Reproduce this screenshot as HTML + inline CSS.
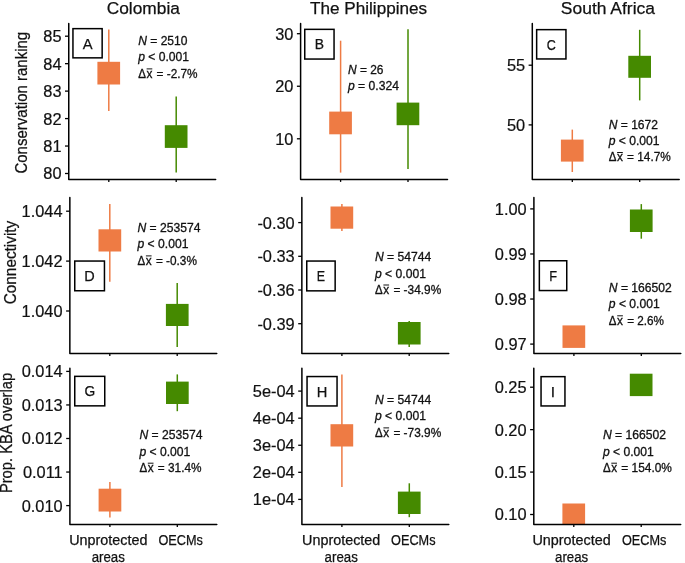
<!DOCTYPE html><html><head><meta charset="utf-8"><style>html,body{margin:0;padding:0;background:#fff;}svg{display:block}.t{font-family:'Liberation Sans', Arial, sans-serif;font-size:15.6px;fill:#111;stroke:#111;stroke-width:0.2px}.a{font-family:'Liberation Sans', Arial, sans-serif;font-size:12.2px;fill:#111;stroke:#111;stroke-width:0.3px}.h{font-family:'Liberation Sans', Arial, sans-serif;font-size:15.8px;fill:#111;stroke:#111;stroke-width:0.25px}</style></head><body>
<svg width="685" height="563" viewBox="0 0 685 563">
<rect width="685" height="563" fill="#fff"/>
<line x1="108.8" y1="29.5" x2="108.8" y2="111.0" stroke="#EE7B44" stroke-width="1.5"/>
<rect x="97.4" y="61.8" width="22.7" height="22.7" fill="#EE7B44"/>
<line x1="176.2" y1="96.5" x2="176.2" y2="172.6" stroke="#458A00" stroke-width="1.5"/>
<rect x="164.8" y="125.2" width="22.7" height="22.7" fill="#458A00"/>
<path d="M68.75 23.5V179.6H215.65" fill="none" stroke="#000" stroke-width="1.5" stroke-linejoin="round" stroke-linecap="round"/>
<line x1="65.0" y1="36.2" x2="68.75" y2="36.2" stroke="#000" stroke-width="1.3"/>
<text class="t" x="61.5" y="42.1" text-anchor="end" textLength="18.2" lengthAdjust="spacingAndGlyphs">85</text>
<line x1="65.0" y1="63.66" x2="68.75" y2="63.66" stroke="#000" stroke-width="1.3"/>
<text class="t" x="61.5" y="69.6" text-anchor="end" textLength="18.2" lengthAdjust="spacingAndGlyphs">84</text>
<line x1="65.0" y1="91.12" x2="68.75" y2="91.12" stroke="#000" stroke-width="1.3"/>
<text class="t" x="61.5" y="97.0" text-anchor="end" textLength="18.2" lengthAdjust="spacingAndGlyphs">83</text>
<line x1="65.0" y1="118.58" x2="68.75" y2="118.58" stroke="#000" stroke-width="1.3"/>
<text class="t" x="61.5" y="124.5" text-anchor="end" textLength="18.2" lengthAdjust="spacingAndGlyphs">82</text>
<line x1="65.0" y1="146.04" x2="68.75" y2="146.04" stroke="#000" stroke-width="1.3"/>
<text class="t" x="61.5" y="151.9" text-anchor="end" textLength="18.2" lengthAdjust="spacingAndGlyphs">81</text>
<line x1="65.0" y1="173.5" x2="68.75" y2="173.5" stroke="#000" stroke-width="1.3"/>
<text class="t" x="61.5" y="179.4" text-anchor="end" textLength="18.2" lengthAdjust="spacingAndGlyphs">80</text>
<line x1="108.8" y1="179.6" x2="108.8" y2="182.1" stroke="#000" stroke-width="1.3"/>
<line x1="176.2" y1="179.6" x2="176.2" y2="182.1" stroke="#000" stroke-width="1.3"/>
<rect x="72.95" y="28.65" width="29.20" height="29.20" fill="#fff" stroke="#000" stroke-width="1.5"/>
<text class="h" x="87.55" y="48.70" text-anchor="middle" style="font-size:15.4px" textLength="9.84" lengthAdjust="spacingAndGlyphs">A</text>
<text class="a" x="138.2" y="45.0" textLength="49.3" lengthAdjust="spacingAndGlyphs"><tspan font-style="italic">N</tspan> = 2510</text>
<text class="a" x="138.2" y="61.4" textLength="50.9" lengthAdjust="spacingAndGlyphs"><tspan font-style="italic">p</tspan> < 0.001</text>
<text class="a" x="138.2" y="77.8" textLength="7.7" lengthAdjust="spacingAndGlyphs">Δ</text>
<text class="a" x="146.5" y="77.8" textLength="5.9" lengthAdjust="spacingAndGlyphs">x</text>
<line x1="146.6" y1="68.9" x2="152.3" y2="68.9" stroke="#111" stroke-width="1"/>
<text class="a" x="156.6" y="77.8" textLength="41.0" lengthAdjust="spacingAndGlyphs">= -2.7%</text>
<line x1="340.6" y1="40.7" x2="340.6" y2="172.6" stroke="#EE7B44" stroke-width="1.5"/>
<rect x="329.2" y="111.6" width="22.7" height="22.7" fill="#EE7B44"/>
<line x1="408.0" y1="29.2" x2="408.0" y2="169.0" stroke="#458A00" stroke-width="1.5"/>
<rect x="396.6" y="102.6" width="22.7" height="22.6" fill="#458A00"/>
<path d="M300.6 23.4V179.4H447.50" fill="none" stroke="#000" stroke-width="1.5" stroke-linejoin="round" stroke-linecap="round"/>
<line x1="296.9" y1="33.7" x2="300.6" y2="33.7" stroke="#000" stroke-width="1.3"/>
<text class="t" x="293.4" y="39.6" text-anchor="end" textLength="18.2" lengthAdjust="spacingAndGlyphs">30</text>
<line x1="296.9" y1="86.25" x2="300.6" y2="86.25" stroke="#000" stroke-width="1.3"/>
<text class="t" x="293.4" y="92.2" text-anchor="end" textLength="18.2" lengthAdjust="spacingAndGlyphs">20</text>
<line x1="296.9" y1="138.8" x2="300.6" y2="138.8" stroke="#000" stroke-width="1.3"/>
<text class="t" x="293.4" y="144.7" text-anchor="end" textLength="18.2" lengthAdjust="spacingAndGlyphs">10</text>
<line x1="340.6" y1="179.4" x2="340.6" y2="181.9" stroke="#000" stroke-width="1.3"/>
<line x1="408.0" y1="179.4" x2="408.0" y2="181.9" stroke="#000" stroke-width="1.3"/>
<rect x="304.75" y="29.35" width="29.30" height="29.70" fill="#fff" stroke="#000" stroke-width="1.5"/>
<text class="h" x="319.40" y="49.40" text-anchor="middle" style="font-size:15.4px" textLength="9.25" lengthAdjust="spacingAndGlyphs">B</text>
<text class="a" x="348.0" y="73.9" textLength="35.5" lengthAdjust="spacingAndGlyphs"><tspan font-style="italic">N</tspan> = 26</text>
<text class="a" x="348.0" y="90.3" textLength="50.9" lengthAdjust="spacingAndGlyphs"><tspan font-style="italic">p</tspan> = 0.324</text>
<line x1="572.3" y1="129.6" x2="572.3" y2="172.0" stroke="#EE7B44" stroke-width="1.5"/>
<rect x="560.9" y="139.6" width="22.7" height="22.0" fill="#EE7B44"/>
<line x1="639.7" y1="29.8" x2="639.7" y2="100.4" stroke="#458A00" stroke-width="1.5"/>
<rect x="628.3" y="55.8" width="22.7" height="22.0" fill="#458A00"/>
<path d="M532.3 23.4V179.5H679.20" fill="none" stroke="#000" stroke-width="1.5" stroke-linejoin="round" stroke-linecap="round"/>
<line x1="528.6" y1="65.2" x2="532.3" y2="65.2" stroke="#000" stroke-width="1.3"/>
<text class="t" x="525.1" y="71.1" text-anchor="end" textLength="18.2" lengthAdjust="spacingAndGlyphs">55</text>
<line x1="528.6" y1="124.9" x2="532.3" y2="124.9" stroke="#000" stroke-width="1.3"/>
<text class="t" x="525.1" y="130.8" text-anchor="end" textLength="18.2" lengthAdjust="spacingAndGlyphs">50</text>
<line x1="572.3" y1="179.5" x2="572.3" y2="182.0" stroke="#000" stroke-width="1.3"/>
<line x1="639.7" y1="179.5" x2="639.7" y2="182.0" stroke="#000" stroke-width="1.3"/>
<rect x="536.65" y="29.65" width="29.30" height="29.30" fill="#fff" stroke="#000" stroke-width="1.5"/>
<text class="h" x="551.30" y="49.70" text-anchor="middle" style="font-size:15.4px" textLength="9.06" lengthAdjust="spacingAndGlyphs">C</text>
<text class="a" x="608.7" y="128.6" textLength="49.3" lengthAdjust="spacingAndGlyphs"><tspan font-style="italic">N</tspan> = 1672</text>
<text class="a" x="608.7" y="145.0" textLength="50.9" lengthAdjust="spacingAndGlyphs"><tspan font-style="italic">p</tspan> < 0.001</text>
<text class="a" x="608.7" y="161.4" textLength="7.7" lengthAdjust="spacingAndGlyphs">Δ</text>
<text class="a" x="617.0" y="161.4" textLength="5.9" lengthAdjust="spacingAndGlyphs">x</text>
<line x1="617.1" y1="152.5" x2="622.8" y2="152.5" stroke="#111" stroke-width="1"/>
<text class="a" x="627.1" y="161.4" textLength="43.7" lengthAdjust="spacingAndGlyphs">= 14.7%</text>
<line x1="109.8" y1="204.1" x2="109.8" y2="281.7" stroke="#EE7B44" stroke-width="1.5"/>
<rect x="98.5" y="229.3" width="22.7" height="22.2" fill="#EE7B44"/>
<line x1="177.2" y1="283.0" x2="177.2" y2="346.9" stroke="#458A00" stroke-width="1.5"/>
<rect x="165.9" y="303.9" width="22.7" height="22.1" fill="#458A00"/>
<path d="M69.85 197.6V353.5H216.75" fill="none" stroke="#000" stroke-width="1.5" stroke-linejoin="round" stroke-linecap="round"/>
<line x1="66.1" y1="211.2" x2="69.85" y2="211.2" stroke="#000" stroke-width="1.3"/>
<text class="t" x="62.6" y="217.1" text-anchor="end" textLength="41.0" lengthAdjust="spacingAndGlyphs">1.044</text>
<line x1="66.1" y1="261.1" x2="69.85" y2="261.1" stroke="#000" stroke-width="1.3"/>
<text class="t" x="62.6" y="267.0" text-anchor="end" textLength="41.0" lengthAdjust="spacingAndGlyphs">1.042</text>
<line x1="66.1" y1="311.0" x2="69.85" y2="311.0" stroke="#000" stroke-width="1.3"/>
<text class="t" x="62.6" y="316.9" text-anchor="end" textLength="41.0" lengthAdjust="spacingAndGlyphs">1.040</text>
<line x1="109.8" y1="353.5" x2="109.8" y2="356.0" stroke="#000" stroke-width="1.3"/>
<line x1="177.2" y1="353.5" x2="177.2" y2="356.0" stroke="#000" stroke-width="1.3"/>
<rect x="74.75" y="261.05" width="29.70" height="29.70" fill="#fff" stroke="#000" stroke-width="1.5"/>
<text class="h" x="89.60" y="281.10" text-anchor="middle" style="font-size:15.4px" textLength="10.46" lengthAdjust="spacingAndGlyphs">D</text>
<text class="a" x="137.5" y="232.0" textLength="63.0" lengthAdjust="spacingAndGlyphs"><tspan font-style="italic">N</tspan> = 253574</text>
<text class="a" x="137.5" y="248.4" textLength="50.9" lengthAdjust="spacingAndGlyphs"><tspan font-style="italic">p</tspan> < 0.001</text>
<text class="a" x="137.5" y="264.8" textLength="7.7" lengthAdjust="spacingAndGlyphs">Δ</text>
<text class="a" x="145.8" y="264.8" textLength="5.9" lengthAdjust="spacingAndGlyphs">x</text>
<line x1="145.9" y1="255.9" x2="151.6" y2="255.9" stroke="#111" stroke-width="1"/>
<text class="a" x="155.9" y="264.8" textLength="41.0" lengthAdjust="spacingAndGlyphs">= -0.3%</text>
<line x1="341.9" y1="204.1" x2="341.9" y2="231.0" stroke="#EE7B44" stroke-width="1.5"/>
<rect x="330.5" y="206.5" width="22.7" height="22.2" fill="#EE7B44"/>
<line x1="409.2" y1="321.0" x2="409.2" y2="346.9" stroke="#458A00" stroke-width="1.5"/>
<rect x="397.9" y="322.0" width="22.7" height="22.5" fill="#458A00"/>
<path d="M301.85 197.5V353.4H448.75" fill="none" stroke="#000" stroke-width="1.5" stroke-linejoin="round" stroke-linecap="round"/>
<line x1="298.2" y1="222.6" x2="301.85" y2="222.6" stroke="#000" stroke-width="1.3"/>
<text class="t" x="294.7" y="228.5" text-anchor="end" textLength="37.3" lengthAdjust="spacingAndGlyphs">-0.30</text>
<line x1="298.2" y1="256.3" x2="301.85" y2="256.3" stroke="#000" stroke-width="1.3"/>
<text class="t" x="294.7" y="262.2" text-anchor="end" textLength="37.3" lengthAdjust="spacingAndGlyphs">-0.33</text>
<line x1="298.2" y1="290.0" x2="301.85" y2="290.0" stroke="#000" stroke-width="1.3"/>
<text class="t" x="294.7" y="295.9" text-anchor="end" textLength="37.3" lengthAdjust="spacingAndGlyphs">-0.36</text>
<line x1="298.2" y1="323.7" x2="301.85" y2="323.7" stroke="#000" stroke-width="1.3"/>
<text class="t" x="294.7" y="329.6" text-anchor="end" textLength="37.3" lengthAdjust="spacingAndGlyphs">-0.39</text>
<line x1="341.9" y1="353.4" x2="341.9" y2="355.9" stroke="#000" stroke-width="1.3"/>
<line x1="409.2" y1="353.4" x2="409.2" y2="355.9" stroke="#000" stroke-width="1.3"/>
<rect x="306.75" y="261.05" width="28.40" height="29.80" fill="#fff" stroke="#000" stroke-width="1.5"/>
<text class="h" x="320.95" y="281.10" text-anchor="middle" style="font-size:15.4px" textLength="8.30" lengthAdjust="spacingAndGlyphs">E</text>
<text class="a" x="375.0" y="261.1" textLength="56.2" lengthAdjust="spacingAndGlyphs"><tspan font-style="italic">N</tspan> = 54744</text>
<text class="a" x="375.0" y="277.5" textLength="50.9" lengthAdjust="spacingAndGlyphs"><tspan font-style="italic">p</tspan> < 0.001</text>
<text class="a" x="375.0" y="293.9" textLength="7.7" lengthAdjust="spacingAndGlyphs">Δ</text>
<text class="a" x="383.3" y="293.9" textLength="5.9" lengthAdjust="spacingAndGlyphs">x</text>
<line x1="383.4" y1="285.0" x2="389.1" y2="285.0" stroke="#111" stroke-width="1"/>
<text class="a" x="393.4" y="293.9" textLength="47.8" lengthAdjust="spacingAndGlyphs">= -34.9%</text>
<rect x="562.5" y="325.4" width="22.7" height="22.5" fill="#EE7B44"/>
<line x1="641.3" y1="204.1" x2="641.3" y2="238.7" stroke="#458A00" stroke-width="1.5"/>
<rect x="629.9" y="209.5" width="22.7" height="22.5" fill="#458A00"/>
<path d="M533.9 197.5V353.6H680.80" fill="none" stroke="#000" stroke-width="1.5" stroke-linejoin="round" stroke-linecap="round"/>
<line x1="530.2" y1="208.9" x2="533.9" y2="208.9" stroke="#000" stroke-width="1.3"/>
<text class="t" x="526.7" y="214.8" text-anchor="end" textLength="31.9" lengthAdjust="spacingAndGlyphs">1.00</text>
<line x1="530.2" y1="253.97" x2="533.9" y2="253.97" stroke="#000" stroke-width="1.3"/>
<text class="t" x="526.7" y="259.9" text-anchor="end" textLength="31.9" lengthAdjust="spacingAndGlyphs">0.99</text>
<line x1="530.2" y1="299.03" x2="533.9" y2="299.03" stroke="#000" stroke-width="1.3"/>
<text class="t" x="526.7" y="304.9" text-anchor="end" textLength="31.9" lengthAdjust="spacingAndGlyphs">0.98</text>
<line x1="530.2" y1="344.1" x2="533.9" y2="344.1" stroke="#000" stroke-width="1.3"/>
<text class="t" x="526.7" y="350.0" text-anchor="end" textLength="31.9" lengthAdjust="spacingAndGlyphs">0.97</text>
<line x1="573.9" y1="353.6" x2="573.9" y2="356.1" stroke="#000" stroke-width="1.3"/>
<line x1="641.3" y1="353.6" x2="641.3" y2="356.1" stroke="#000" stroke-width="1.3"/>
<rect x="539.35" y="260.75" width="27.40" height="29.80" fill="#fff" stroke="#000" stroke-width="1.5"/>
<text class="h" x="553.05" y="280.80" text-anchor="middle" style="font-size:15.4px" textLength="7.81" lengthAdjust="spacingAndGlyphs">F</text>
<text class="a" x="608.8" y="291.9" textLength="63.0" lengthAdjust="spacingAndGlyphs"><tspan font-style="italic">N</tspan> = 166502</text>
<text class="a" x="608.8" y="308.3" textLength="50.9" lengthAdjust="spacingAndGlyphs"><tspan font-style="italic">p</tspan> < 0.001</text>
<text class="a" x="608.8" y="324.7" textLength="7.7" lengthAdjust="spacingAndGlyphs">Δ</text>
<text class="a" x="617.1" y="324.7" textLength="5.9" lengthAdjust="spacingAndGlyphs">x</text>
<line x1="617.2" y1="315.8" x2="622.9" y2="315.8" stroke="#111" stroke-width="1"/>
<text class="a" x="627.2" y="324.7" textLength="36.8" lengthAdjust="spacingAndGlyphs">= 2.6%</text>
<line x1="109.9" y1="481.9" x2="109.9" y2="517.6" stroke="#EE7B44" stroke-width="1.5"/>
<rect x="98.6" y="488.7" width="22.7" height="22.8" fill="#EE7B44"/>
<line x1="177.3" y1="374.4" x2="177.3" y2="411.2" stroke="#458A00" stroke-width="1.5"/>
<rect x="166.0" y="381.6" width="22.7" height="22.4" fill="#458A00"/>
<path d="M69.9 368.2V524.5H216.80" fill="none" stroke="#000" stroke-width="1.5" stroke-linejoin="round" stroke-linecap="round"/>
<line x1="66.2" y1="371.4" x2="69.9" y2="371.4" stroke="#000" stroke-width="1.3"/>
<text class="t" x="62.7" y="377.3" text-anchor="end" textLength="41.0" lengthAdjust="spacingAndGlyphs">0.014</text>
<line x1="66.2" y1="404.95" x2="69.9" y2="404.95" stroke="#000" stroke-width="1.3"/>
<text class="t" x="62.7" y="410.8" text-anchor="end" textLength="41.0" lengthAdjust="spacingAndGlyphs">0.013</text>
<line x1="66.2" y1="438.5" x2="69.9" y2="438.5" stroke="#000" stroke-width="1.3"/>
<text class="t" x="62.7" y="444.4" text-anchor="end" textLength="41.0" lengthAdjust="spacingAndGlyphs">0.012</text>
<line x1="66.2" y1="472.05" x2="69.9" y2="472.05" stroke="#000" stroke-width="1.3"/>
<text class="t" x="62.7" y="477.9" text-anchor="end" textLength="39.8" lengthAdjust="spacingAndGlyphs">0.011</text>
<line x1="66.2" y1="505.6" x2="69.9" y2="505.6" stroke="#000" stroke-width="1.3"/>
<text class="t" x="62.7" y="511.5" text-anchor="end" textLength="41.0" lengthAdjust="spacingAndGlyphs">0.010</text>
<line x1="109.9" y1="524.5" x2="109.9" y2="527.0" stroke="#000" stroke-width="1.3"/>
<line x1="177.3" y1="524.5" x2="177.3" y2="527.0" stroke="#000" stroke-width="1.3"/>
<rect x="74.75" y="376.35" width="30.00" height="29.50" fill="#fff" stroke="#000" stroke-width="1.5"/>
<text class="h" x="89.75" y="396.40" text-anchor="middle" style="font-size:15.4px" textLength="10.72" lengthAdjust="spacingAndGlyphs">G</text>
<text class="a" x="139.4" y="439.3" textLength="63.0" lengthAdjust="spacingAndGlyphs"><tspan font-style="italic">N</tspan> = 253574</text>
<text class="a" x="139.4" y="455.7" textLength="50.9" lengthAdjust="spacingAndGlyphs"><tspan font-style="italic">p</tspan> < 0.001</text>
<text class="a" x="139.4" y="472.1" textLength="7.7" lengthAdjust="spacingAndGlyphs">Δ</text>
<text class="a" x="147.7" y="472.1" textLength="5.9" lengthAdjust="spacingAndGlyphs">x</text>
<line x1="147.8" y1="463.2" x2="153.5" y2="463.2" stroke="#111" stroke-width="1"/>
<text class="a" x="157.8" y="472.1" textLength="43.7" lengthAdjust="spacingAndGlyphs">= 31.4%</text>
<line x1="341.9" y1="374.4" x2="341.9" y2="487.0" stroke="#EE7B44" stroke-width="1.5"/>
<rect x="330.5" y="424.2" width="22.7" height="22.3" fill="#EE7B44"/>
<line x1="409.3" y1="483.3" x2="409.3" y2="517.2" stroke="#458A00" stroke-width="1.5"/>
<rect x="397.9" y="491.6" width="22.7" height="22.4" fill="#458A00"/>
<path d="M301.9 368.2V524.4H448.80" fill="none" stroke="#000" stroke-width="1.5" stroke-linejoin="round" stroke-linecap="round"/>
<line x1="298.2" y1="391.1" x2="301.9" y2="391.1" stroke="#000" stroke-width="1.3"/>
<text class="t" x="294.7" y="397.0" text-anchor="end" textLength="41.9" lengthAdjust="spacingAndGlyphs">5e-04</text>
<line x1="298.2" y1="418.18" x2="301.9" y2="418.18" stroke="#000" stroke-width="1.3"/>
<text class="t" x="294.7" y="424.1" text-anchor="end" textLength="41.9" lengthAdjust="spacingAndGlyphs">4e-04</text>
<line x1="298.2" y1="445.25" x2="301.9" y2="445.25" stroke="#000" stroke-width="1.3"/>
<text class="t" x="294.7" y="451.1" text-anchor="end" textLength="41.9" lengthAdjust="spacingAndGlyphs">3e-04</text>
<line x1="298.2" y1="472.32" x2="301.9" y2="472.32" stroke="#000" stroke-width="1.3"/>
<text class="t" x="294.7" y="478.2" text-anchor="end" textLength="41.9" lengthAdjust="spacingAndGlyphs">2e-04</text>
<line x1="298.2" y1="499.4" x2="301.9" y2="499.4" stroke="#000" stroke-width="1.3"/>
<text class="t" x="294.7" y="505.3" text-anchor="end" textLength="41.9" lengthAdjust="spacingAndGlyphs">1e-04</text>
<line x1="341.9" y1="524.4" x2="341.9" y2="526.9" stroke="#000" stroke-width="1.3"/>
<line x1="409.3" y1="524.4" x2="409.3" y2="526.9" stroke="#000" stroke-width="1.3"/>
<rect x="307.05" y="376.55" width="30.00" height="29.40" fill="#fff" stroke="#000" stroke-width="1.5"/>
<text class="h" x="322.05" y="396.60" text-anchor="middle" style="font-size:15.4px" textLength="10.59" lengthAdjust="spacingAndGlyphs">H</text>
<text class="a" x="375.0" y="404.0" textLength="56.2" lengthAdjust="spacingAndGlyphs"><tspan font-style="italic">N</tspan> = 54744</text>
<text class="a" x="375.0" y="420.4" textLength="50.9" lengthAdjust="spacingAndGlyphs"><tspan font-style="italic">p</tspan> < 0.001</text>
<text class="a" x="375.0" y="436.8" textLength="7.7" lengthAdjust="spacingAndGlyphs">Δ</text>
<text class="a" x="383.3" y="436.8" textLength="5.9" lengthAdjust="spacingAndGlyphs">x</text>
<line x1="383.4" y1="427.9" x2="389.1" y2="427.9" stroke="#111" stroke-width="1"/>
<text class="a" x="393.4" y="436.8" textLength="47.8" lengthAdjust="spacingAndGlyphs">= -73.9%</text>
<rect x="562.4" y="503.5" width="22.7" height="20.5" fill="#EE7B44"/>
<rect x="629.8" y="373.7" width="22.7" height="22.4" fill="#458A00"/>
<path d="M533.8 368.2V524.4H680.70" fill="none" stroke="#000" stroke-width="1.5" stroke-linejoin="round" stroke-linecap="round"/>
<line x1="530.1" y1="387.2" x2="533.8" y2="387.2" stroke="#000" stroke-width="1.3"/>
<text class="t" x="526.6" y="393.1" text-anchor="end" textLength="31.9" lengthAdjust="spacingAndGlyphs">0.25</text>
<line x1="530.1" y1="429.63" x2="533.8" y2="429.63" stroke="#000" stroke-width="1.3"/>
<text class="t" x="526.6" y="435.5" text-anchor="end" textLength="31.9" lengthAdjust="spacingAndGlyphs">0.20</text>
<line x1="530.1" y1="472.07" x2="533.8" y2="472.07" stroke="#000" stroke-width="1.3"/>
<text class="t" x="526.6" y="478.0" text-anchor="end" textLength="31.9" lengthAdjust="spacingAndGlyphs">0.15</text>
<line x1="530.1" y1="514.5" x2="533.8" y2="514.5" stroke="#000" stroke-width="1.3"/>
<text class="t" x="526.6" y="520.4" text-anchor="end" textLength="31.9" lengthAdjust="spacingAndGlyphs">0.10</text>
<line x1="573.8" y1="524.4" x2="573.8" y2="526.9" stroke="#000" stroke-width="1.3"/>
<line x1="641.2" y1="524.4" x2="641.2" y2="526.9" stroke="#000" stroke-width="1.3"/>
<rect x="541.05" y="376.65" width="23.90" height="29.30" fill="#fff" stroke="#000" stroke-width="1.5"/>
<text class="h" x="553.00" y="396.70" text-anchor="middle" style="font-size:15.4px" textLength="4.28" lengthAdjust="spacingAndGlyphs">I</text>
<text class="a" x="602.9" y="439.3" textLength="63.0" lengthAdjust="spacingAndGlyphs"><tspan font-style="italic">N</tspan> = 166502</text>
<text class="a" x="602.9" y="455.7" textLength="50.9" lengthAdjust="spacingAndGlyphs"><tspan font-style="italic">p</tspan> < 0.001</text>
<text class="a" x="602.9" y="472.1" textLength="7.7" lengthAdjust="spacingAndGlyphs">Δ</text>
<text class="a" x="611.2" y="472.1" textLength="5.9" lengthAdjust="spacingAndGlyphs">x</text>
<line x1="611.3" y1="463.2" x2="617.0" y2="463.2" stroke="#111" stroke-width="1"/>
<text class="a" x="621.3" y="472.1" textLength="50.6" lengthAdjust="spacingAndGlyphs">= 154.0%</text>
<text class="h" x="143.3" y="13.5" text-anchor="middle" style="font-size:17.4px" textLength="73.2" lengthAdjust="spacingAndGlyphs">Colombia</text>
<text class="h" x="368.6" y="13.5" text-anchor="middle" style="font-size:17.4px" textLength="117.1" lengthAdjust="spacingAndGlyphs">The Philippines</text>
<text class="h" x="607.9" y="13.5" text-anchor="middle" style="font-size:17.4px" textLength="94.1" lengthAdjust="spacingAndGlyphs">South Africa</text>
<text class="h" transform="translate(27.2 102.7) rotate(-90)" text-anchor="middle" style="font-size:16.4px" textLength="141.7" lengthAdjust="spacingAndGlyphs">Conservation ranking</text>
<text class="h" transform="translate(15.5 262.5) rotate(-90)" text-anchor="middle" style="font-size:16.4px" textLength="83.5" lengthAdjust="spacingAndGlyphs">Connectivity</text>
<text class="h" transform="translate(11.8 433) rotate(-90)" text-anchor="middle" style="font-size:16.4px" textLength="120.2" lengthAdjust="spacingAndGlyphs">Prop. KBA overlap</text>
<text class="h" x="108.3" y="545.0" text-anchor="middle" style="font-size:14.0px" textLength="78.2" lengthAdjust="spacingAndGlyphs">Unprotected</text>
<text class="h" x="108.3" y="562.3" text-anchor="middle" style="font-size:14.0px" textLength="33.2" lengthAdjust="spacingAndGlyphs">areas</text>
<text class="h" x="180.7" y="545.0" text-anchor="middle" style="font-size:14.0px" textLength="44.4" lengthAdjust="spacingAndGlyphs">OECMs</text>
<text class="h" x="341.2" y="545.0" text-anchor="middle" style="font-size:14.0px" textLength="78.2" lengthAdjust="spacingAndGlyphs">Unprotected</text>
<text class="h" x="341.2" y="562.3" text-anchor="middle" style="font-size:14.0px" textLength="33.2" lengthAdjust="spacingAndGlyphs">areas</text>
<text class="h" x="413.3" y="545.0" text-anchor="middle" style="font-size:14.0px" textLength="44.4" lengthAdjust="spacingAndGlyphs">OECMs</text>
<text class="h" x="571.6" y="545.0" text-anchor="middle" style="font-size:14.0px" textLength="78.2" lengthAdjust="spacingAndGlyphs">Unprotected</text>
<text class="h" x="571.6" y="562.3" text-anchor="middle" style="font-size:14.0px" textLength="33.2" lengthAdjust="spacingAndGlyphs">areas</text>
<text class="h" x="644.1" y="545.0" text-anchor="middle" style="font-size:14.0px" textLength="44.4" lengthAdjust="spacingAndGlyphs">OECMs</text>
</svg></body></html>
